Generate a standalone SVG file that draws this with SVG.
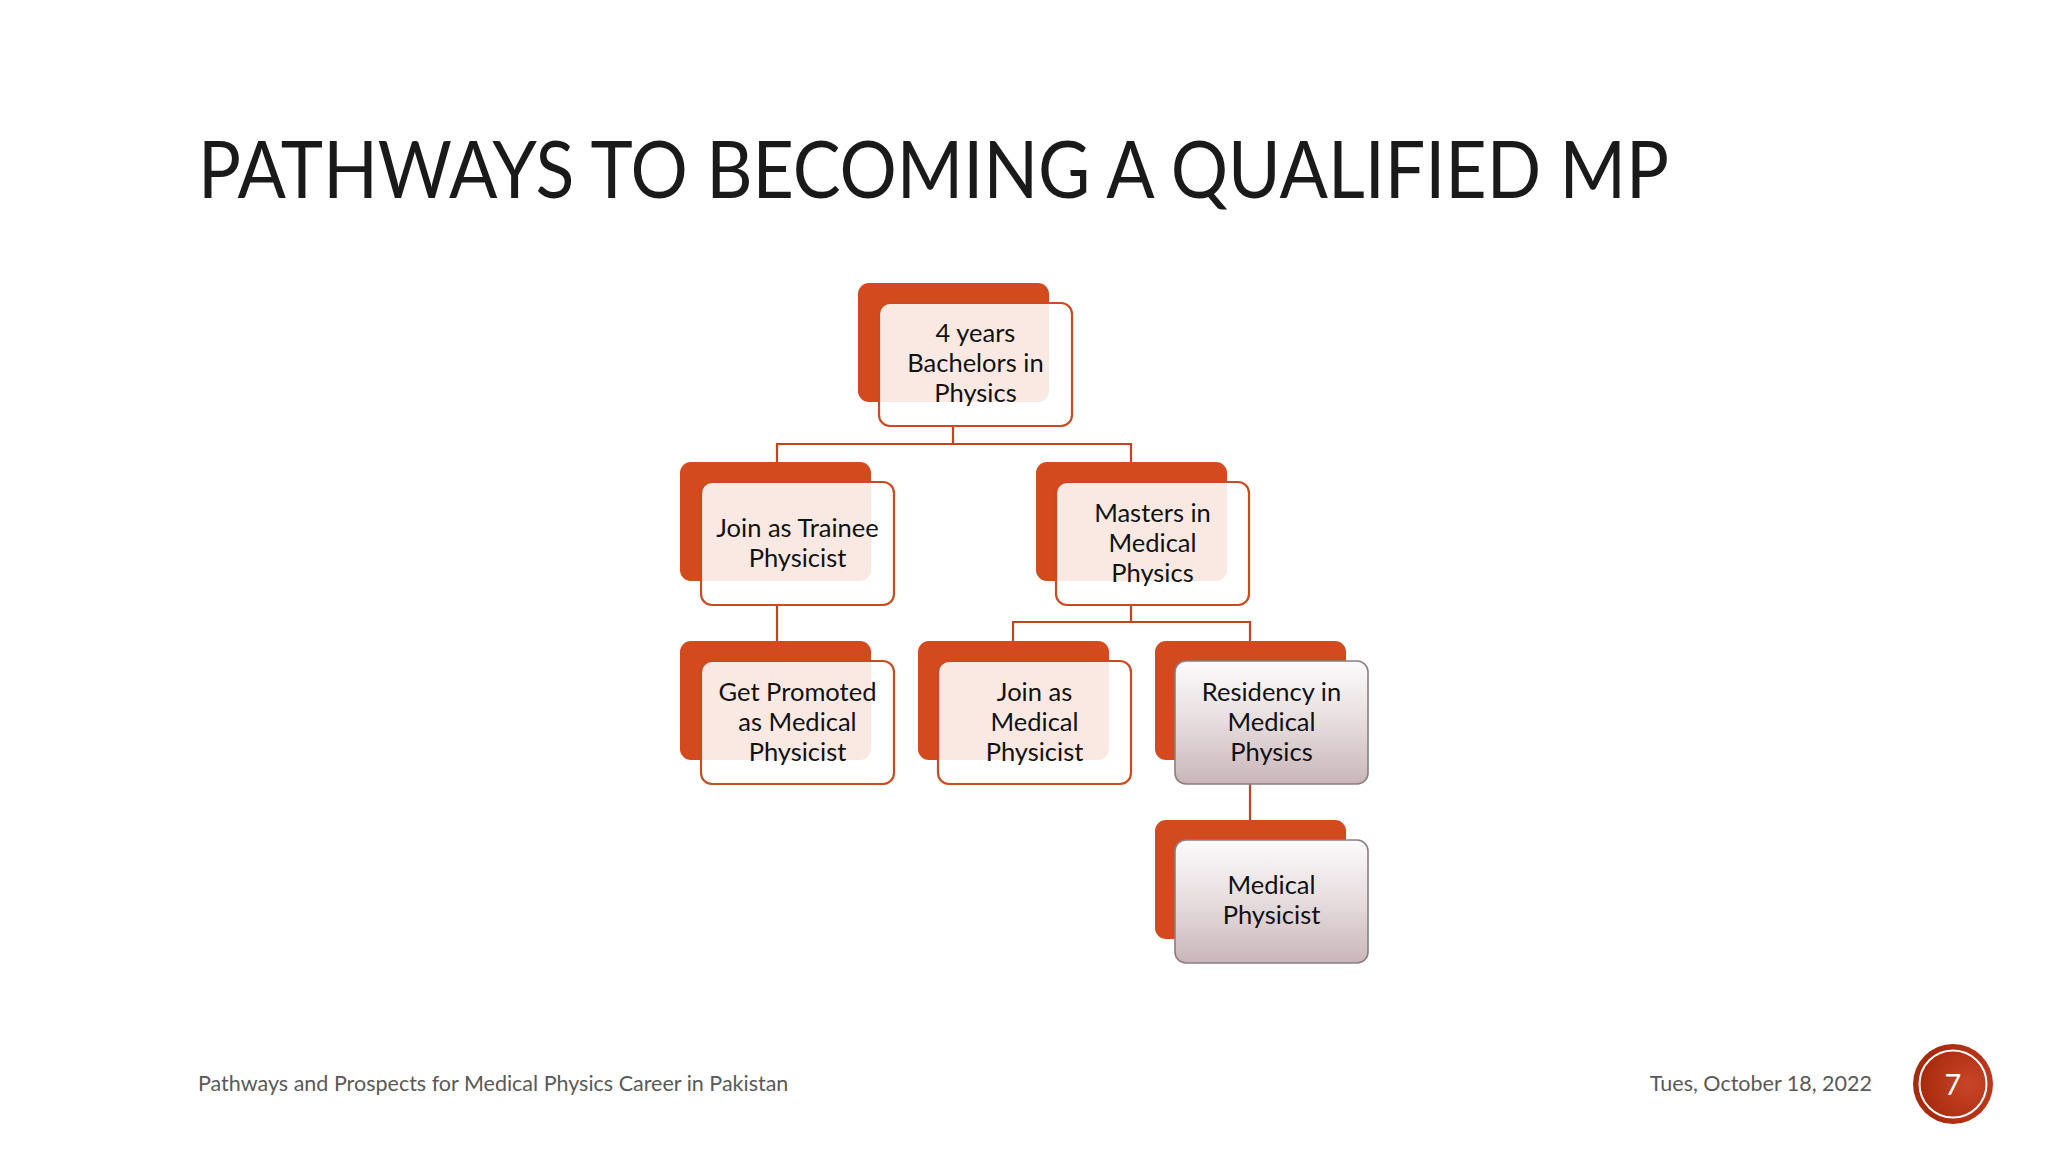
<svg xmlns="http://www.w3.org/2000/svg" width="2048" height="1152" viewBox="0 0 2048 1152">
<defs>
<linearGradient id="grey" x1="0" y1="0" x2="0" y2="1">
<stop offset="0" stop-color="#FDFBFC"/>
<stop offset="0.5" stop-color="#E6DCDE"/>
<stop offset="1" stop-color="#C9B6BB"/>
</linearGradient>
<radialGradient id="pg" cx="0.7" cy="0.5" r="0.6">
<stop offset="0" stop-color="#C9452A"/>
<stop offset="1" stop-color="#A82A0C"/>
</radialGradient>
</defs>
<style>
.back{fill:#D24A1E;}
.front{fill:#FFFFFF;fill-opacity:0.88;stroke:#CC4A20;stroke-width:2.2;}
.frontg{fill:url(#grey);stroke:#8C7D81;stroke-width:1.6;}
.lbl{font-family:Lato,"Open Sans","Liberation Sans",sans-serif;font-size:25.5px;fill:#111;text-anchor:middle;}
.conn{fill:none;stroke:#C4441C;stroke-width:2.2;}
.foot{font-family:Lato,"Open Sans","Liberation Sans",sans-serif;font-size:21.5px;fill:#595959;}
</style>
<rect width="2048" height="1152" fill="#FFFFFF"/>
<text x="198" y="198" font-family="Lato,'Open Sans','Liberation Sans',sans-serif" font-size="80" fill="#1A1A1A" textLength="1471" lengthAdjust="spacingAndGlyphs">PATHWAYS TO BECOMING A QUALIFIED MP</text>

<g id="connectors">
<path class="conn" d="M953 426 V444 M777 462 V444 H1131 V462"/>
<path class="conn" d="M777 605 V641"/>
<path class="conn" d="M1131 605 V622 M1013 641 V622 H1250 V641"/>
<path class="conn" d="M1250 784 V820"/>
</g>

<g id="n-bachelors">
<rect class="back" x="858" y="283" width="191" height="119" rx="11"/>
<rect class="front" x="879" y="303" width="193" height="123" rx="11"/>
<text class="lbl" x="975.5"><tspan x="975.5" y="342">4 years</tspan><tspan x="975.5" y="372">Bachelors in</tspan><tspan x="975.5" y="402">Physics</tspan></text>
</g>

<g id="n-trainee">
<rect class="back" x="680" y="462" width="191" height="119" rx="11"/>
<rect class="front" x="701" y="482" width="193" height="123" rx="11"/>
<text class="lbl"><tspan x="797.5" y="537">Join as Trainee</tspan><tspan x="797.5" y="567">Physicist</tspan></text>
</g>

<g id="n-masters">
<rect class="back" x="1036" y="462" width="191" height="119" rx="11"/>
<rect class="front" x="1056" y="482" width="193" height="123" rx="11"/>
<text class="lbl"><tspan x="1152.5" y="522">Masters in</tspan><tspan x="1152.5" y="552">Medical</tspan><tspan x="1152.5" y="582">Physics</tspan></text>
</g>

<g id="n-promoted">
<rect class="back" x="680" y="641" width="191" height="119" rx="11"/>
<rect class="front" x="701" y="661" width="193" height="123" rx="11"/>
<text class="lbl"><tspan x="797.5" y="701">Get Promoted</tspan><tspan x="797.5" y="731">as Medical</tspan><tspan x="797.5" y="761">Physicist</tspan></text>
</g>

<g id="n-join-mp">
<rect class="back" x="918" y="641" width="191" height="119" rx="11"/>
<rect class="front" x="938" y="661" width="193" height="123" rx="11"/>
<text class="lbl"><tspan x="1034.5" y="701">Join as</tspan><tspan x="1034.5" y="731">Medical</tspan><tspan x="1034.5" y="761">Physicist</tspan></text>
</g>

<g id="n-residency">
<rect class="back" x="1155" y="641" width="191" height="119" rx="11"/>
<rect class="frontg" x="1175" y="661" width="193" height="123" rx="11"/>
<text class="lbl"><tspan x="1271.5" y="701">Residency in</tspan><tspan x="1271.5" y="731">Medical</tspan><tspan x="1271.5" y="761">Physics</tspan></text>
</g>

<g id="n-medical-physicist">
<rect class="back" x="1155" y="820" width="191" height="119" rx="11"/>
<rect class="frontg" x="1175" y="840" width="193" height="123" rx="11"/>
<text class="lbl"><tspan x="1271.5" y="894">Medical</tspan><tspan x="1271.5" y="924">Physicist</tspan></text>
</g>

<text class="foot" x="198" y="1091">Pathways and Prospects for Medical Physics Career in Pakistan</text>
<text class="foot" x="1872" y="1091" text-anchor="end">Tues, October 18, 2022</text>

<g id="page-number">
<circle cx="1953" cy="1084" r="40" fill="url(#pg)"/>
<circle cx="1953" cy="1084" r="33.5" fill="none" stroke="#FFFFFF" stroke-width="2"/>
<text x="1953" y="1095" font-family="Lato,'Open Sans','Liberation Sans',sans-serif" font-size="29" fill="#FFFFFF" text-anchor="middle">7</text>
</g>
</svg>
